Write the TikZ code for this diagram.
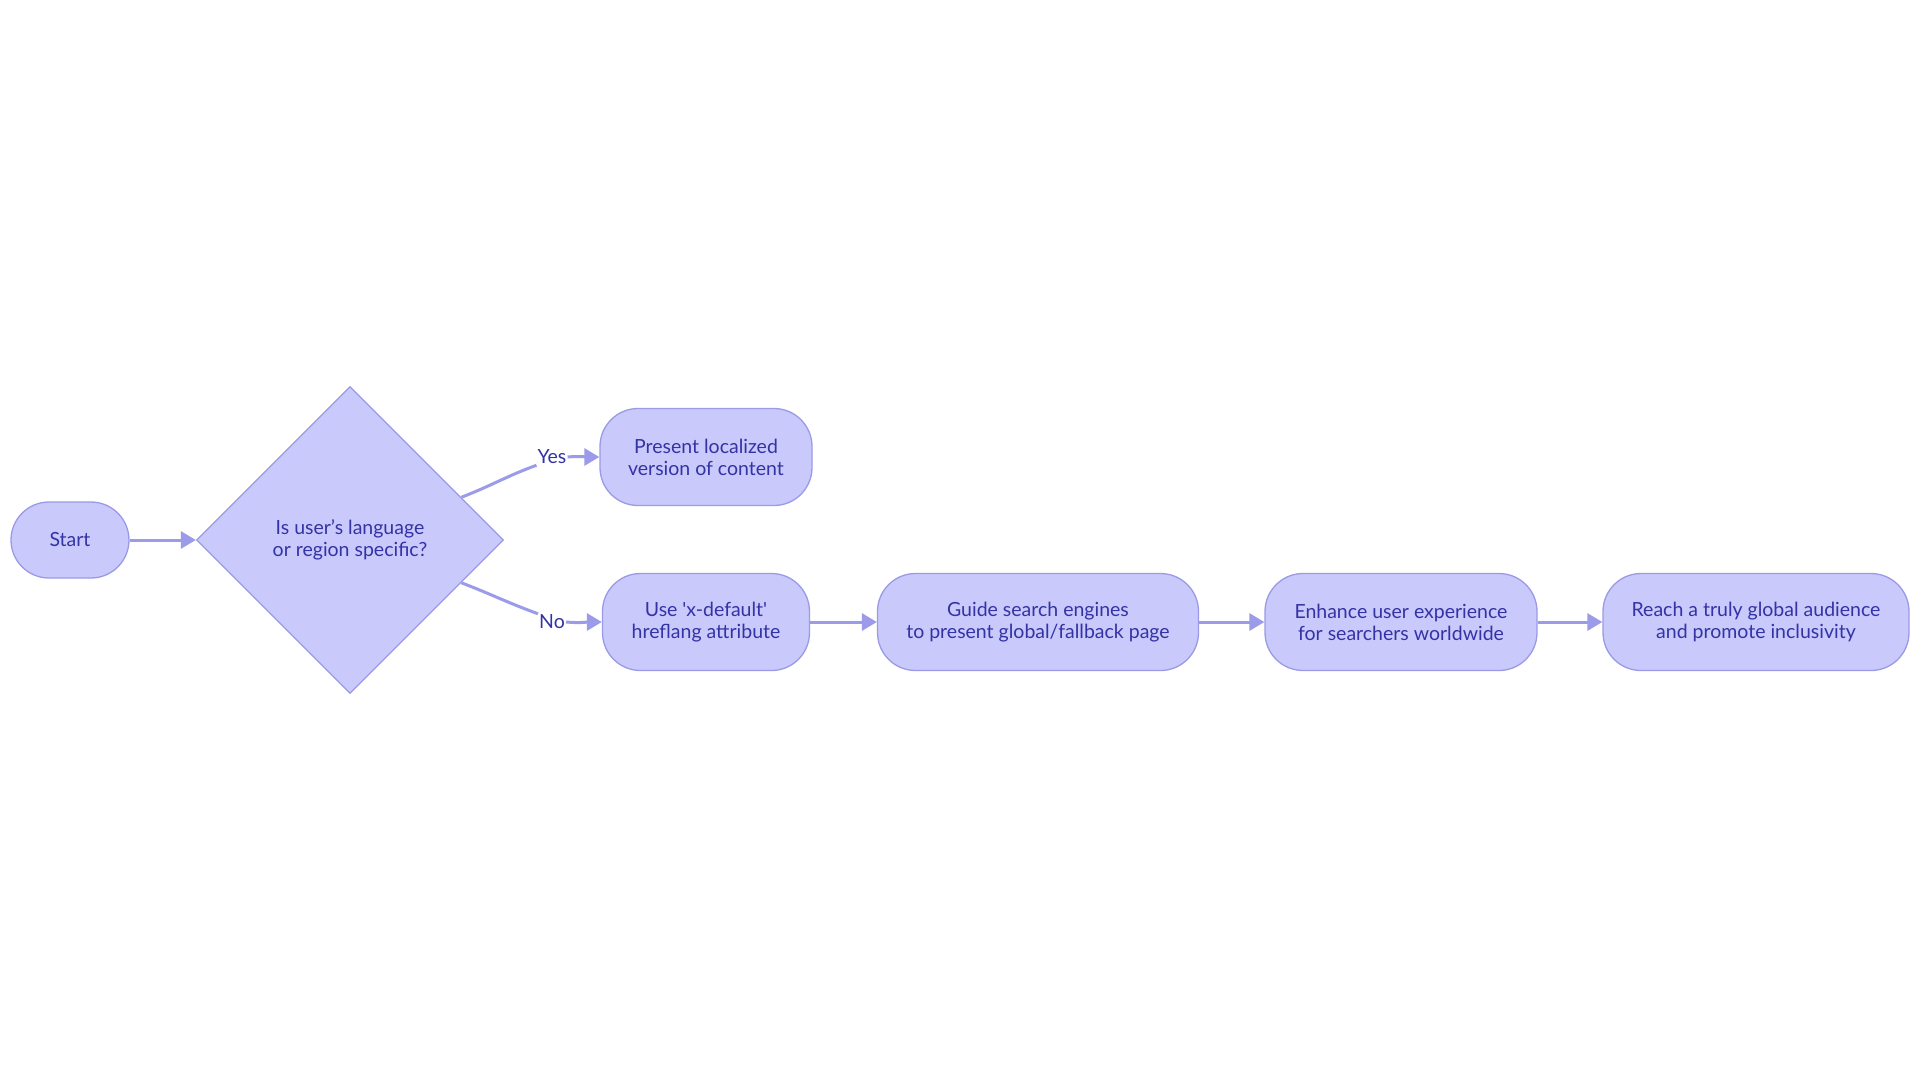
\documentclass[tikz,border=0pt]{standalone}
\usepackage{fontspec}
\setmainfont{Lato}
\usepackage{tikz}
\usetikzlibrary{%
arrows.meta,%
shapes.geometric,%
positioning}

\definecolor{boxfill}{HTML}{C9C9FC}
\definecolor{boxline}{HTML}{9A9AE6}
\definecolor{boxtext}{HTML}{3333A6}
\definecolor{edgeline}{HTML}{9B9BEA}

\begin{document}
\begin{tikzpicture}[x=1pt,y=-1pt,
    every node/.style={font=\fontsize{19.5}{22}\selectfont,text=boxtext},
    flowbox/.style={draw=boxline,fill=boxfill,line width=1.3pt,
        rounded corners=38pt,minimum height=97pt,align=center,inner sep=0pt},
    query/.style={diamond,aspect=1,draw=boxline,fill=boxfill,line width=1.3pt,
        minimum width=307pt,minimum height=307pt,inner sep=0pt,align=center},
    flow/.style={draw=edgeline,line width=3pt},
    tip/.style={-{Triangle[length=15pt,width=17pt]}},
    answer/.style={inner sep=1pt}
    ]
\useasboundingbox[fill=white] (0,0) rectangle (1920,1080);
\node[flowbox,minimum width=118pt,minimum height=76pt] (start) at (70,540) {Start};
\node[query] (q) at (350,540) {Is user's language\\or region specific?};
\node[flowbox,minimum width=212pt] (local) at (706,457) {Present localized\\version of content};
\node[flowbox,minimum width=207pt] (xdef) at (706,622) {Use \textquotesingle x-default\textquotesingle\\hreflang attribute};
\node[flowbox,minimum width=321pt] (guide) at (1038,622) {Guide search engines\\to present global/fallback page};
\node[flowbox,minimum width=272pt] (enhance) at (1401,622) {Enhance user experience\\for searchers worldwide};
\node[flowbox,minimum width=306pt] (reach) at (1756,622) {Reach a truly global audience\\and promote inclusivity};
\node[answer] (yes) at (552,457) {Yes};
\node[answer] (no) at (552,622) {No};
% edges
\draw[flow,tip] (start) -- (q);
\draw[flow] (q) to[out=21,in=200] (yes.south west);
\draw[flow,tip] (yes.east) to[out=5,in=180] (local);
\draw[flow] (q) to[out=-21,in=160] (no.north west);
\draw[flow,tip] (no.east) to[out=-5,in=180] (xdef);
\draw[flow,tip] (xdef) -- (guide);
\draw[flow,tip] (guide) -- (enhance);
\draw[flow,tip] (enhance) -- (reach);
\end{tikzpicture}
\end{document}
